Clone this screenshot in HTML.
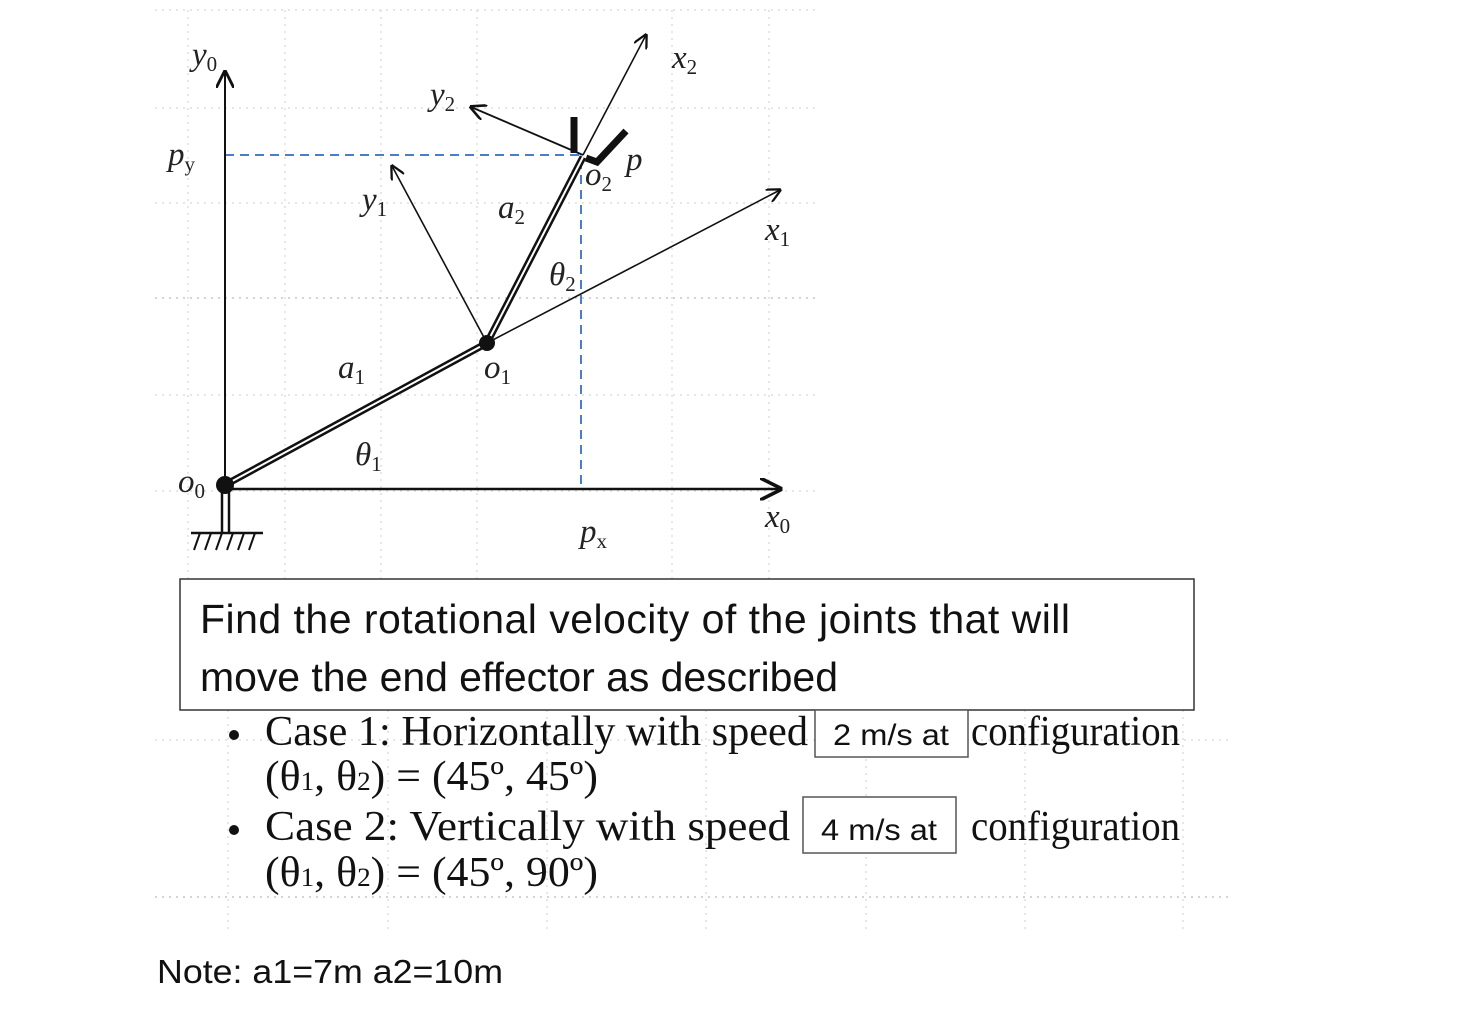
<!DOCTYPE html>
<html><head><meta charset="utf-8"><style>
body{margin:0;background:#fff}
svg{display:block}
.lab{font-family:"Liberation Serif",serif;font-style:italic;font-size:33px;fill:#222}
.sub{font-size:21px;font-style:normal}
.ser{font-family:"Liberation Serif",serif;font-size:42px;fill:#111}
.san{font-family:"Liberation Sans",sans-serif;fill:#111}
.grid{stroke:#ccc;stroke-width:1;stroke-dasharray:2 5}
</style></head><body>
<svg width="1475" height="1018" viewBox="0 0 1475 1018">
<defs><marker id="ah" viewBox="0 0 10 10" refX="9" refY="5" markerWidth="9" markerHeight="9" orient="auto-start-reverse"><path d="M0,0 L10,5 L0,10" fill="none" stroke="#111" stroke-width="1.6"/></marker></defs>
<g>
<line class="grid" x1="155" y1="10" x2="820" y2="10"/><line class="grid" x1="155" y1="108" x2="820" y2="108"/>
<line class="grid" x1="155" y1="203" x2="820" y2="203"/><line class="grid" x1="155" y1="298" x2="820" y2="298" style="stroke:#aaa"/>
<line class="grid" x1="155" y1="395" x2="820" y2="395"/><line class="grid" x1="155" y1="491" x2="820" y2="491"/>
<line class="grid" x1="155" y1="740" x2="1230" y2="740"/><line class="grid" x1="155" y1="897" x2="1230" y2="897" style="stroke:#aaa"/>
<line class="grid" x1="188" y1="10" x2="188" y2="580"/><line class="grid" x1="285" y1="10" x2="285" y2="580"/>
<line class="grid" x1="381" y1="10" x2="381" y2="580"/><line class="grid" x1="477" y1="10" x2="477" y2="580"/>
<line class="grid" x1="672" y1="10" x2="672" y2="580"/><line class="grid" x1="769" y1="10" x2="769" y2="580"/>
<line class="grid" x1="228" y1="710" x2="228" y2="930"/><line class="grid" x1="388" y1="710" x2="388" y2="930"/>
<line class="grid" x1="547" y1="710" x2="547" y2="930"/><line class="grid" x1="706" y1="710" x2="706" y2="930"/>
<line class="grid" x1="866" y1="710" x2="866" y2="930"/><line class="grid" x1="1025" y1="710" x2="1025" y2="930"/>
<line class="grid" x1="1183" y1="710" x2="1183" y2="930"/>
</g>
<g stroke="#4a7fc8" stroke-width="2" stroke-dasharray="9 6" fill="none">
<line x1="225" y1="155" x2="583" y2="155"/><line x1="581" y1="160" x2="581" y2="488"/>
</g>
<g stroke="#111" stroke-width="2" fill="none">
<line x1="225" y1="485" x2="225" y2="72" marker-end="url(#ah)"/>
<line x1="225" y1="489" x2="780" y2="489" marker-end="url(#ah)" stroke-width="2.5"/>
<line x1="487" y1="343" x2="780" y2="190" marker-end="url(#ah)" stroke-width="1.6"/>
<line x1="487" y1="343" x2="392" y2="166" marker-end="url(#ah)" stroke-width="1.6"/>
<line x1="583" y1="155" x2="646" y2="35" marker-end="url(#ah)" stroke-width="1.6"/>
<line x1="583" y1="155" x2="471" y2="107" marker-end="url(#ah)" stroke-width="1.8"/>
</g>
<g fill="none">
<line x1="225" y1="485" x2="487" y2="343" stroke="#111" stroke-width="7"/><line x1="225" y1="485" x2="487" y2="343" stroke="#fff" stroke-width="2"/>
<line x1="487" y1="343" x2="583" y2="157" stroke="#111" stroke-width="7"/><line x1="487" y1="343" x2="583" y2="157" stroke="#fff" stroke-width="2"/>
<line x1="222" y1="490" x2="222" y2="532" stroke="#111" stroke-width="2.5"/><line x1="229" y1="490" x2="229" y2="532" stroke="#111" stroke-width="2.5"/>
<line x1="191" y1="533" x2="263" y2="533" stroke="#111" stroke-width="2.5"/>
<path d="M200,533 l-6,17 M211,533 l-6,17 M222,533 l-6,17 M233,533 l-6,17 M244,533 l-6,17 M255,533 l-6,17" stroke="#111" stroke-width="2"/>
<line x1="574" y1="117" x2="574" y2="153" stroke="#111" stroke-width="7"/>
<polyline points="586,158 597,162 626,131" stroke="#111" stroke-width="7"/>
</g>
<circle cx="225" cy="485" r="9" fill="#111"/>
<circle cx="487" cy="343" r="8" fill="#111"/>
<g>
<text class="lab" x="192" y="65">y<tspan class="sub" dy="6">0</tspan></text>
<text class="lab" x="168" y="165">p<tspan class="sub" dy="6">y</tspan></text>
<text class="lab" x="430" y="105">y<tspan class="sub" dy="6">2</tspan></text>
<text class="lab" x="672" y="68">x<tspan class="sub" dy="6">2</tspan></text>
<text class="lab" x="362" y="210">y<tspan class="sub" dy="6">1</tspan></text>
<text class="lab" x="498" y="218">a<tspan class="sub" dy="6">2</tspan></text>
<text class="lab" x="585" y="185">o<tspan class="sub" dy="6">2</tspan></text>
<text class="lab" x="626" y="170">p</text>
<text class="lab" x="765" y="240">x<tspan class="sub" dy="6">1</tspan></text>
<text class="lab" x="549" y="285">θ<tspan class="sub" dy="6">2</tspan></text>
<text class="lab" x="338" y="378">a<tspan class="sub" dy="6">1</tspan></text>
<text class="lab" x="484" y="378">o<tspan class="sub" dy="6">1</tspan></text>
<text class="lab" x="355" y="465">θ<tspan class="sub" dy="6">1</tspan></text>
<text class="lab" x="178" y="492">o<tspan class="sub" dy="6">0</tspan></text>
<text class="lab" x="765" y="527">x<tspan class="sub" dy="6">0</tspan></text>
<text class="lab" x="580" y="542">p<tspan class="sub" dy="6">x</tspan></text>
</g>
<rect x="180" y="579" width="1014" height="131" fill="#fff" stroke="#333" stroke-width="1.5"/>
<text class="san" x="200" y="633" font-size="41" textLength="870">Find the rotational velocity of the joints that will</text>
<text class="san" x="200" y="691" font-size="41" textLength="638">move the end effector as described</text>
<g>
<circle cx="234" cy="735" r="5" fill="#111"/>
<text class="ser" x="265" y="745" textLength="543" lengthAdjust="spacingAndGlyphs">Case 1: Horizontally with speed</text>
<rect x="815" y="710" width="153" height="47" fill="#fff" stroke="#555" stroke-width="1.5"/>
<text class="san" x="833" y="745" font-size="30" textLength="116" lengthAdjust="spacingAndGlyphs">2 m/s at</text>
<text class="ser" x="971" y="745" textLength="209" lengthAdjust="spacingAndGlyphs">configuration</text>
<text class="ser" x="265" y="790" textLength="333" lengthAdjust="spacingAndGlyphs">(θ<tspan font-size="26">1</tspan>, θ<tspan font-size="26">2</tspan>) = (45º, 45º)</text>
<circle cx="234" cy="830" r="5" fill="#111"/>
<text class="ser" x="265" y="840" textLength="525" lengthAdjust="spacingAndGlyphs">Case 2: Vertically with speed</text>
<rect x="803" y="797" width="153" height="56" fill="#fff" stroke="#555" stroke-width="1.5"/>
<text class="san" x="821" y="840" font-size="30" textLength="116" lengthAdjust="spacingAndGlyphs">4 m/s at</text>
<text class="ser" x="971" y="840" textLength="209" lengthAdjust="spacingAndGlyphs">configuration</text>
<text class="ser" x="265" y="886" textLength="333" lengthAdjust="spacingAndGlyphs">(θ<tspan font-size="26">1</tspan>, θ<tspan font-size="26">2</tspan>) = (45º, 90º)</text>
</g>
<text class="san" x="157" y="983" font-size="33" textLength="346" lengthAdjust="spacingAndGlyphs">Note: a1=7m a2=10m</text>
</svg>
</body></html>
